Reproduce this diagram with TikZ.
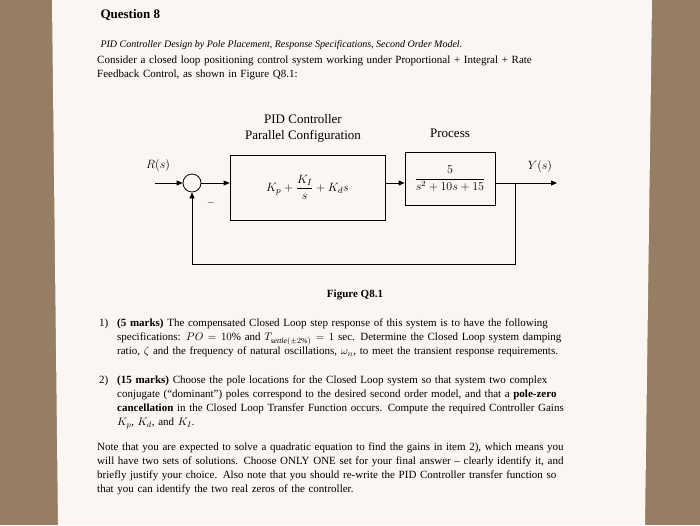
\documentclass[tikz,border=0pt]{standalone}
\usepackage{fontspec}
\setmainfont{Liberation Serif}
\usepackage{amsmath}
\usetikzlibrary{arrows.meta,positioning,calc}
\newcommand{\nohyph}{\hyphenpenalty=10000\relax}
\tikzset{
  blk/.style={draw, thick, minimum width=#1},
  sumc/.style={draw, thick, circle, minimum size=18pt, inner sep=0pt},
  sig/.style={thick, -{Triangle[length=6pt,width=5pt]}},
  para/.style={anchor=north west, align=left, text width=470pt, font=\fontsize{11}{14}\selectfont\nohyph, inner sep=0pt},
  itemno/.style={anchor=north west, font=\fontsize{11}{14}\selectfont, inner sep=0pt},
}
\begin{document}
\begin{tikzpicture}[x=1pt,y=-1pt]
\useasboundingbox (0,0) rectangle (700,525);
\fill[brown!55!black!70] (0,0) rectangle (700,525);
\fill[white!93!brown] (52,0) -- (652,0) -- (645,525) -- (58,525) -- cycle;

% header text
\node[anchor=west, font=\fontsize{13}{15}\selectfont\bfseries] (qhead) at (97,15) {Question 8};
\node[anchor=west, font=\fontsize{10}{12}\selectfont\itshape] (title) at (97,45) {PID Controller Design by Pole Placement, Response Specifications, Second Order Model.};
\node[para] (intro) at (97,56) {Consider a closed loop positioning control system working under Proportional + Integral + Rate\\ Feedback Control, as shown in Figure Q8.1:};

% block diagram
\node[font=\fontsize{13}{16}\selectfont, align=center] (pidlbl) at (303,128) {PID Controller\\Parallel Configuration};
\node[font=\fontsize{13}{16}\selectfont] (proclbl) at (450,133) {Process};
\node[sumc] (sum) at (192,183) {};
\node[blk=155pt, minimum height=65pt] (ctrl) at (307.5,187.5) {\fontsize{13}{15}\selectfont$K_p+\dfrac{K_I}{s}+K_d s$};
\node[blk=90pt, minimum height=53pt] (proc) at (450,178.5) {\fontsize{12}{14}\selectfont$\dfrac{5}{s^2+10s+15}$};
\coordinate (rin) at (155,183);
\coordinate (yout) at (557,183);
\coordinate (tap) at (515,183);
\coordinate (fb) at (515,264);
\coordinate (fbl) at (192,264);
\node[font=\fontsize{12}{14}\selectfont] (rlbl) at (158,165) {$R(s)$};
\node[font=\fontsize{12}{14}\selectfont] (ylbl) at (540,166) {$Y(s)$};
\node (minus) at (211,203) {$-$};
\draw[sig] (rin) -- (sum);
\draw[sig] (sum) -- (sum -| ctrl.west);
\draw[sig] (ctrl.east |- sum) -- (proc.west |- sum);
\draw[sig] (proc.east |- yout) -- (yout);
\draw[sig] (tap) -- (fb) -- (fbl) -- (sum.south);

\node[font=\fontsize{11}{13}\selectfont\bfseries] (figcap) at (355,295) {Figure Q8.1};

% questions
\node[itemno] (n1) at (99,319) {1)};
\node[para, text width=455pt] (q1) at (117,319) {\textbf{(5 marks)} The compensated Closed Loop step response of this system is to have the following specifications: $PO=10\%$ and $T_{\mathit{settle}(\pm2\%)}=1$ sec. Determine the Closed Loop system damping ratio, $\zeta$ and the frequency of natural oscillations, $\omega_n$, to meet the transient response requirements.};
\node[itemno] (n2) at (99,376) {2)};
\node[para, text width=455pt] (q2) at (117,376) {\textbf{(15 marks)} Choose the pole locations for the Closed Loop system so that system two complex conjugate (``dominant'') poles correspond to the desired second order model, and that a \textbf{pole-zero cancellation} in the Closed Loop Transfer Function occurs. Compute the required Controller Gains $K_p$, $K_d$, and $K_I$.};
\node[para] (note) at (97,443) {Note that you are expected to solve a quadratic equation to find the gains in item 2), which means you will have two sets of solutions. Choose ONLY ONE set for your final answer -- clearly identify it, and briefly justify your choice. Also note that you should re-write the PID Controller transfer function so that you can identify the two real zeros of the controller.};
\end{tikzpicture}
\end{document}
